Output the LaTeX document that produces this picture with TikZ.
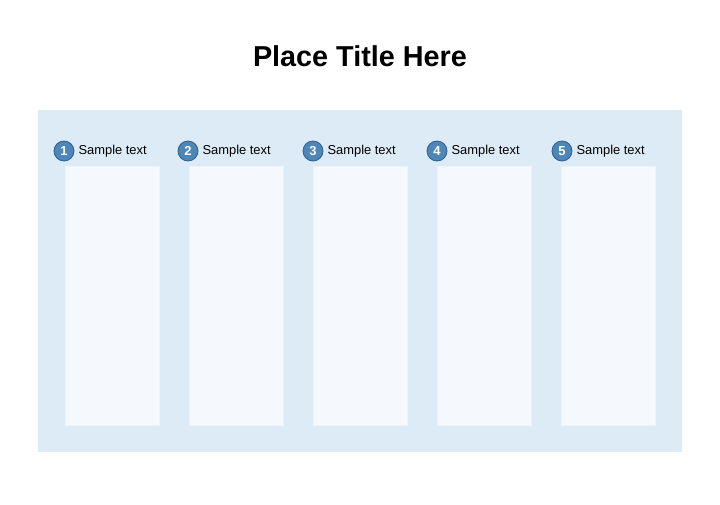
\documentclass[tikz,border=0pt]{standalone}
\usepackage{fontspec}
\setmainfont{Liberation Sans}
\usetikzlibrary{positioning}
\definecolor{panelblue}{RGB}{221,235,247}
\definecolor{colwhite}{RGB}{245,249,254}
\definecolor{coledge}{RGB}{236,243,251}
\definecolor{numblue}{RGB}{79,134,184}
\definecolor{numedge}{RGB}{46,95,138}

\begin{document}
\begin{tikzpicture}[x=1pt, y=-1pt,
    colbox/.style={fill=colwhite, draw=coledge, line width=0.8pt, minimum width=94pt, minimum height=259pt, inner sep=0pt, anchor=north west},
    numdot/.style={circle, fill=numblue, draw=numedge, line width=0.8pt, minimum size=20pt, inner sep=0pt, text=white, font=\fontsize{13}{15}\selectfont\bfseries},
    lbl/.style={inner sep=0pt, font=\fontsize{12.9}{15}\selectfont}]
    \useasboundingbox (0,0) rectangle (720,504);

    % Title
    \node[font=\fontsize{28.8}{32}\selectfont\bfseries] (title) at (360,56) {Place Title Here};

    % Background panel
    \node[fill=panelblue, minimum width=644pt, minimum height=342pt, inner sep=0pt, anchor=north west] (panel) at (38,110) {};

    % Columns
    \node[colbox] (col1) at (65,166) {};
    \node[colbox] (col2) at (189,166) {};
    \node[colbox] (col3) at (313,166) {};
    \node[colbox] (col4) at (437,166) {};
    \node[colbox] (col5) at (561,166) {};

    % Numbered headings
    \node[numdot] (num1) at (64,151) {1};
    \node[lbl, right=4pt of num1] (lbl1) {Sample text};

    \node[numdot] (num2) at (188,151) {2};
    \node[lbl, right=4pt of num2] (lbl2) {Sample text};

    \node[numdot] (num3) at (313,151) {3};
    \node[lbl, right=4pt of num3] (lbl3) {Sample text};

    \node[numdot] (num4) at (437,151) {4};
    \node[lbl, right=4pt of num4] (lbl4) {Sample text};

    \node[numdot] (num5) at (562,151) {5};
    \node[lbl, right=4pt of num5] (lbl5) {Sample text};
\end{tikzpicture}
\end{document}
